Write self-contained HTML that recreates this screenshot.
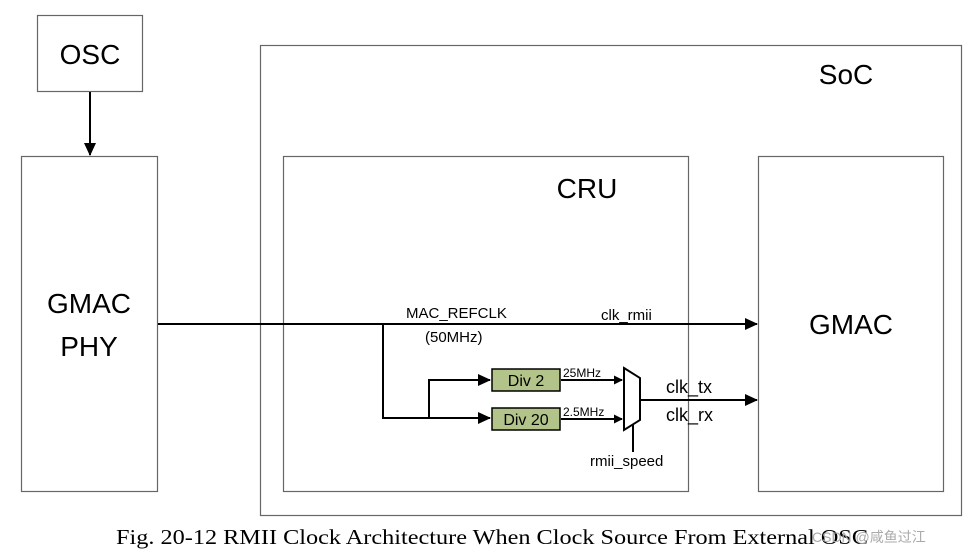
<!DOCTYPE html>
<html><head><meta charset="utf-8"><style>
html,body{margin:0;padding:0;background:#fff;}
svg{display:block;}
text{font-family:"Liberation Sans",sans-serif;fill:#000;}
</style></head><body>
<svg width="970" height="553" viewBox="0 0 970 553" xmlns="http://www.w3.org/2000/svg">
<defs>
<marker id="a" markerWidth="13" markerHeight="12" refX="12" refY="6" orient="auto" markerUnits="userSpaceOnUse">
<path d="M0,0 L13,6 L0,12 z" fill="#000"/></marker>
<marker id="s" markerWidth="9" markerHeight="9" refX="8" refY="4.5" orient="auto" markerUnits="userSpaceOnUse">
<path d="M0,0 L9,4.5 L0,9 z" fill="#000"/></marker>
</defs>
<g fill="none" stroke="#666" stroke-width="1.2">
<rect x="37.5" y="15.5" width="105" height="76"/>
<rect x="21.5" y="156.5" width="136" height="335"/>
<rect x="260.5" y="45.5" width="701" height="470"/>
<rect x="283.5" y="156.5" width="405" height="335"/>
<rect x="758.5" y="156.5" width="185" height="335"/>
</g>
<text x="90" y="64" font-size="28" text-anchor="middle">OSC</text>
<text x="89" y="313" font-size="28" text-anchor="middle">GMAC</text>
<text x="89" y="356" font-size="28" text-anchor="middle">PHY</text>
<text x="846" y="84" font-size="28" text-anchor="middle">SoC</text>
<text x="587" y="198" font-size="28" text-anchor="middle">CRU</text>
<text x="851" y="334" font-size="28" text-anchor="middle">GMAC</text>
<g stroke="#000" stroke-width="2" fill="none">
<line x1="90" y1="92" x2="90" y2="155" marker-end="url(#a)"/>
<line x1="158" y1="324" x2="757" y2="324" marker-end="url(#a)"/>
<polyline points="383,324 383,418 490,418" marker-end="url(#a)"/>
<polyline points="429,418 429,380 490,380" marker-end="url(#a)"/>
<line x1="561" y1="380" x2="622" y2="380" marker-end="url(#s)"/>
<line x1="561" y1="419" x2="622" y2="419" marker-end="url(#s)"/>
<line x1="640" y1="400" x2="757" y2="400" marker-end="url(#a)"/>
<line x1="633" y1="425" x2="633" y2="452"/>
<polygon points="624,368 640,378 640,420 624,430"/>
</g>
<rect x="492" y="369" width="68" height="22" fill="#b3c48a" stroke="#000" stroke-width="1.5"/>
<rect x="492" y="408" width="68" height="22" fill="#b3c48a" stroke="#000" stroke-width="1.5"/>
<text x="526" y="386" font-size="16" text-anchor="middle">Div 2</text>
<text x="526" y="425" font-size="16" text-anchor="middle">Div 20</text>
<text x="563" y="377" font-size="12">25MHz</text>
<text x="563" y="416" font-size="12">2.5MHz</text>
<text x="406" y="318" font-size="15">MAC_REFCLK</text>
<text x="425" y="342" font-size="15">(50MHz)</text>
<text x="601" y="320" font-size="15">clk_rmii</text>
<text x="666" y="393" font-size="18">clk_tx</text>
<text x="666" y="421" font-size="18">clk_rx</text>
<text x="590" y="466" font-size="15">rmii_speed</text>
<text x="116" y="544" font-size="21" textLength="752" lengthAdjust="spacingAndGlyphs" style="font-family:'Liberation Serif',serif">Fig. 20-12 RMII Clock Architecture When Clock Source From External OSC</text>
<text x="812" y="542" font-size="14" style="fill:#aaa;font-family:'Liberation Sans','Noto Sans CJK SC',sans-serif">CSDN @咸鱼过江</text>
</svg>
</body></html>
